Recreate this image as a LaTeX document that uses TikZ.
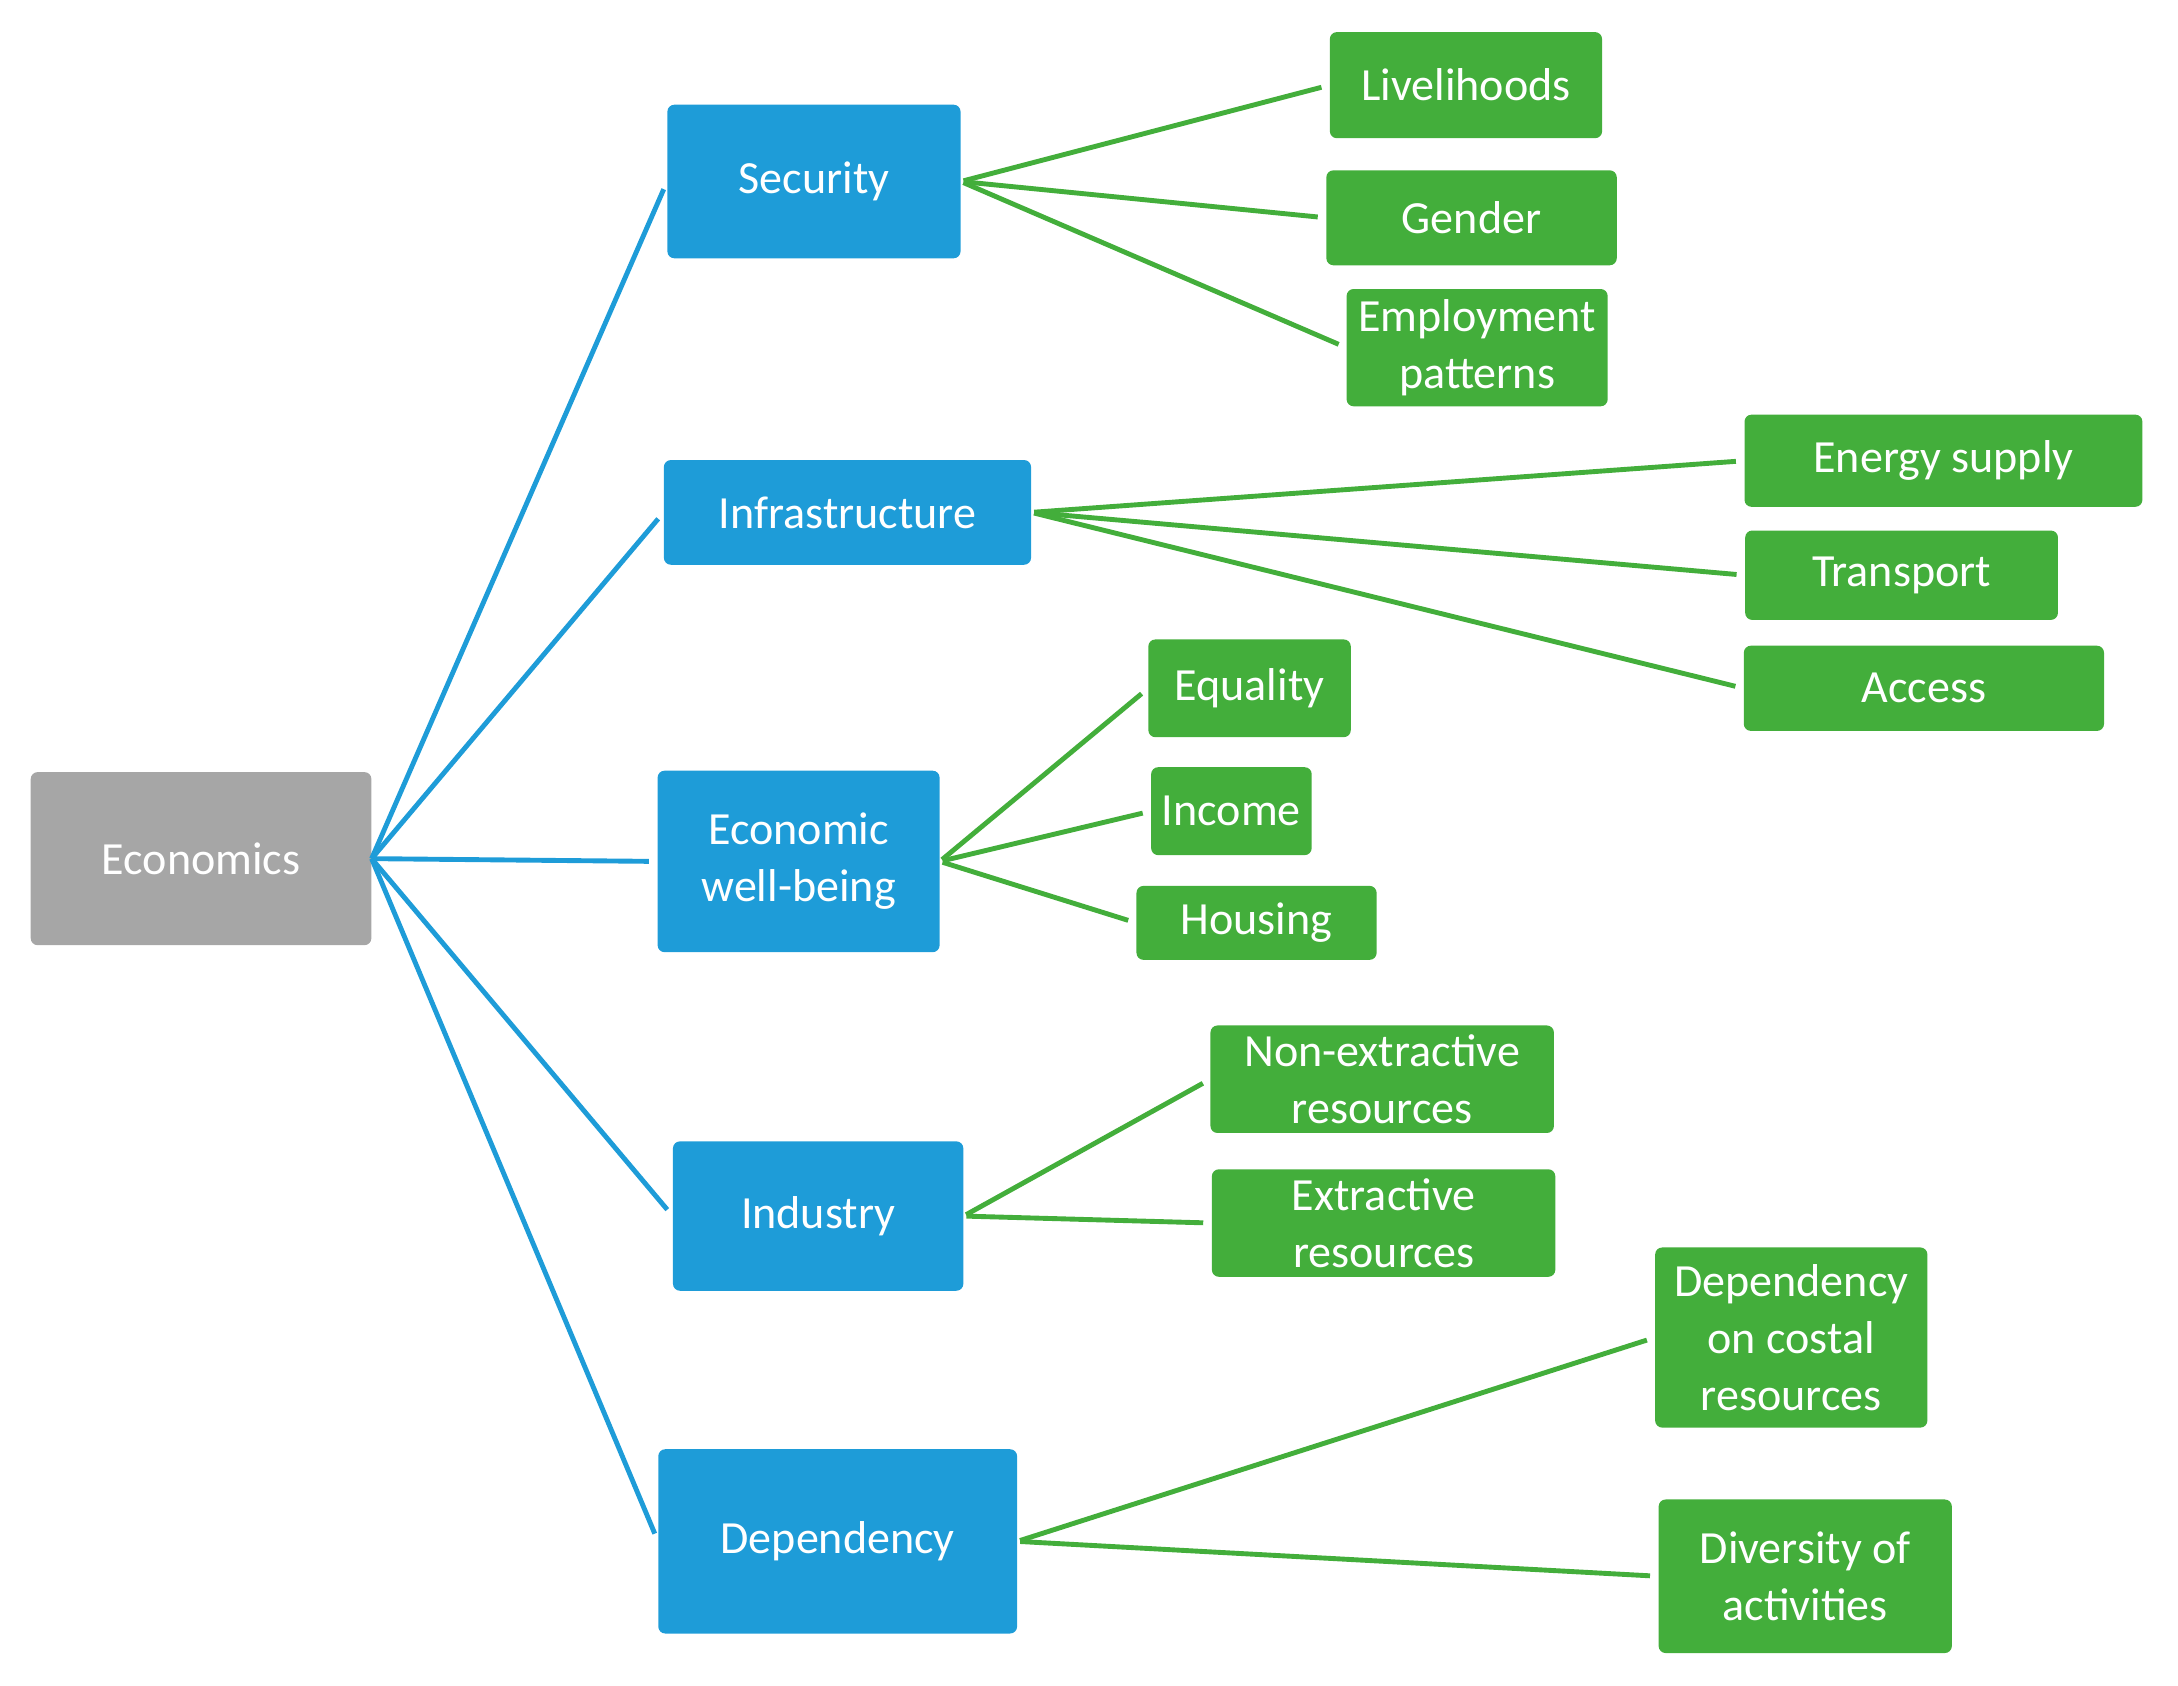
\documentclass[tikz,border=0pt]{standalone}
\usepackage{fontspec}
\setmainfont{Carlito}
\begin{document}
\begin{tikzpicture}[x=1pt,y=-1pt,
 base/.style={rounded corners=5pt,text=white,align=center,inner sep=0pt,font=\fontsize{33}{41}\selectfont},
 gray/.style={base,fill=gray!70},
 blue/.style={base,fill=cyan!70!blue!85!black},
 green/.style={base,fill=green!60!black!90},
 bl/.style={draw=cyan!70!blue!85!black,line width=3.5pt,shorten >=6pt},
 gl/.style={draw=green!60!black!90,line width=3.5pt,shorten <=2pt,shorten >=6pt}]
\useasboundingbox (0,0) rectangle (1560,1207);
\definecolor{bb}{HTML}{1E9CD8}\definecolor{gg}{HTML}{43AE3B}
\tikzset{blue/.style={base,fill=bb},green/.style={base,fill=gg},bl/.style={draw=bb,line width=3.5pt,shorten >=6pt},gl/.style={draw=gg,line width=3.5pt,shorten <=2pt,shorten >=6pt},gray/.style={base,fill=gray!70!white}}
\node[gray,minimum width=244,minimum height=124] (eco) at (144,615) {Economics};
\node[blue,minimum width=210,minimum height=110] (sec) at (583,130) {Security};
\node[blue,minimum width=263,minimum height=75] (inf) at (607,367) {Infrastructure};
\node[blue,minimum width=202,minimum height=130] (ewb) at (572,617) {Economic\\well-being};
\node[blue,minimum width=208,minimum height=107] (ind) at (586,871) {Industry};
\node[blue,minimum width=257,minimum height=132] (dep) at (600,1104) {Dependency};
\node[green,minimum width=195,minimum height=76] (liv) at (1050,61) {Livelihoods};
\node[green,minimum width=208,minimum height=68] (gen) at (1054,156) {Gender};
\node[green,minimum width=187,minimum height=84] (emp) at (1058,249) {Employment\\patterns};
\node[green,minimum width=285,minimum height=66] (ene) at (1392,330) {Energy supply};
\node[green,minimum width=224,minimum height=64] (tra) at (1362,412) {Transport};
\node[green,minimum width=258,minimum height=61] (acc) at (1378,493) {Access};
\node[green,minimum width=145,minimum height=70] (equ) at (895,493) {Equality};
\node[green,minimum width=115,minimum height=63] (inc) at (882,581) {Income};
\node[green,minimum width=172,minimum height=53] (hou) at (900,661) {Housing};
\node[green,minimum width=246,minimum height=77] (nex) at (990,773) {Non-extractive\\resources};
\node[green,minimum width=246,minimum height=77] (ext) at (991,876) {Extractive\\resources};
\node[green,minimum width=195,minimum height=129] (dcr) at (1283,958) {Dependency\\on costal\\resources};
\node[green,minimum width=210,minimum height=110] (div) at (1293,1129) {Diversity of\\activities};
\foreach \n in {sec,inf,ewb,ind,dep} \draw[bl] (eco.east) -- (\n.west);
\foreach \n in {liv,gen,emp} \draw[gl] (sec.east) -- (\n.west);
\foreach \n in {ene,tra,acc} \draw[gl] (inf.east) -- (\n.west);
\foreach \n in {equ,inc,hou} \draw[gl] (ewb.east) -- (\n.west);
\foreach \n in {nex,ext} \draw[gl] (ind.east) -- (\n.west);
\foreach \n in {dcr,div} \draw[gl] (dep.east) -- (\n.west);
\end{tikzpicture}
\end{document}
